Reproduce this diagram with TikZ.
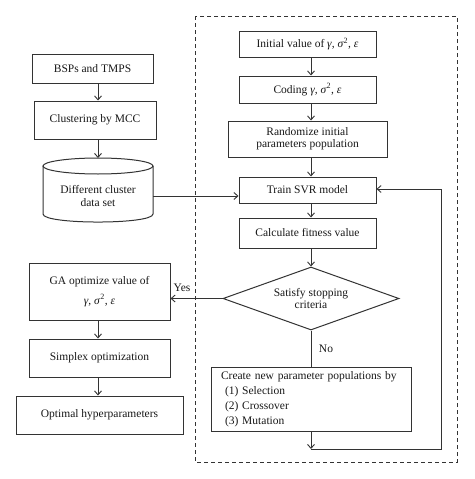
\documentclass[tikz,border=0pt]{standalone}
\usepackage{fontspec}
\setmainfont{Liberation Serif}
\usetikzlibrary{arrows.meta,shapes.geometric,calc}
\definecolor{ink}{gray}{0.2}
\newcommand{\gse}{\textit{γ}, \textit{σ}\textsuperscript{2}, \textit{ε}}
\begin{document}
\begin{tikzpicture}[x=1pt,y=-1pt,
  every node/.style={font=\fontsize{11.5}{14}\selectfont, inner sep=2pt, text=black!90},
  box/.style={draw=ink, line width=1pt, align=center},
  arr/.style={draw=ink, -{Straight Barb[length=4pt,width=7pt]}, line width=0.9pt},
  ln/.style={draw=ink, line width=0.9pt}]
\useasboundingbox[fill=white] (0,0) rectangle (474,479);
% dashed frame
\draw[ink, dashed, dash pattern=on 4pt off 3pt, line width=1pt] (195,16) rectangle (457,462);
% left column
\node[box, minimum width=121pt, minimum height=29pt] (bsp) at (92.5,68.5) {BSPs and TMPS};
\node[box, minimum width=122pt, minimum height=38pt] (mcc) at (95,120) {Clustering by MCC};
\node[align=center, minimum width=110pt, minimum height=48pt] (cyl) at (98,196) {Different cluster\\[-1pt]data set};
\draw[ink, line width=1pt] (98,166) ellipse [x radius=55pt, y radius=8pt];
\draw[ink, line width=1pt] (43,166) -- (43,214) .. controls (43,224.7) and (153,224.7) .. (153,214) -- (153,166);
\coordinate (cyltop) at (98,158);
% right column
\node[box, minimum width=137pt, minimum height=26pt] (init) at (307.5,44) {Initial value of \gse};
\node[box, minimum width=137pt, minimum height=27pt] (code) at (307.5,89.5) {Coding \gse};
\node[box, minimum width=159pt, minimum height=36pt] (rand) at (307.5,139) {Randomize initial\\[-2pt]parameters population};
\node[box, minimum width=137pt, minimum height=26pt] (train) at (307.5,190) {Train SVR model};
\node[box, minimum width=137pt, minimum height=30pt] (fit) at (307.5,233) {Calculate fitness value};
\node[draw=ink, line width=1pt, diamond, aspect=2.8, minimum width=176pt, minimum height=63pt, inner sep=0pt, align=center] (dia) at (311,298.5) {Satisfy stopping\\[-2pt]criteria};
\node[draw=ink, line width=1pt, minimum width=200pt, minimum height=64pt, text width=180pt, align=left, inner sep=0pt,
  font=\fontsize{11.5}{15}\selectfont] (create) at (311,399)
  {Create new parameter populations by\\ \hspace*{4pt}(1) Selection\\ \hspace*{4pt}(2) Crossover\\ \hspace*{4pt}(3) Mutation};
% bottom left
\node[box, minimum width=141pt, minimum height=57pt, font=\fontsize{11.5}{20}\selectfont] (ga) at (99.5,291.5) {GA optimize value of\\ \gse};
\node[box, minimum width=141pt, minimum height=38pt] (simp) at (99.5,358) {Simplex optimization};
\node[box, minimum width=167pt, minimum height=38pt] (opt) at (99.5,415) {Optimal hyperparameters};
% labels
\node (yes) at (182,288) {Yes};
\node (no) at (326,349) {No};
\coordinate (c1) at (311,449);
\coordinate (c2) at (441,449);
\coordinate (c3) at (441,189);
% connectors left
\draw[arr] (bsp.south -| cyl.center) -- (mcc.north -| cyl.center);
\draw[arr] (mcc.south -| cyl.center) -- (cyltop);
\draw[arr] (cyl.east) -- (cyl.east -| train.west);
\draw[arr] (ga.south -| 98,0) -- (simp.north -| 98,0);
\draw[arr] (simp.south -| 98,0) -- (opt.north -| 98,0);
% connectors right
\draw[arr] (init.south -| dia.center) -- (code.north -| dia.center);
\draw[arr] (code.south -| dia.center) -- (rand.north -| dia.center);
\draw[arr] (rand.south -| dia.center) -- (train.north -| dia.center);
\draw[arr] (train.south -| dia.center) -- (fit.north -| dia.center);
\draw[arr] (fit.south -| dia.center) -- (dia.north);
\draw[ln] (dia.south) -- (create.north);
\draw[arr] (dia.west) -- (dia.west -| ga.east);
\draw[arr] (create.south) -- (c1);
\draw[arr] (c1) -- (c2) -- (c3) -- (c3 -| train.east);
\end{tikzpicture}
\end{document}
